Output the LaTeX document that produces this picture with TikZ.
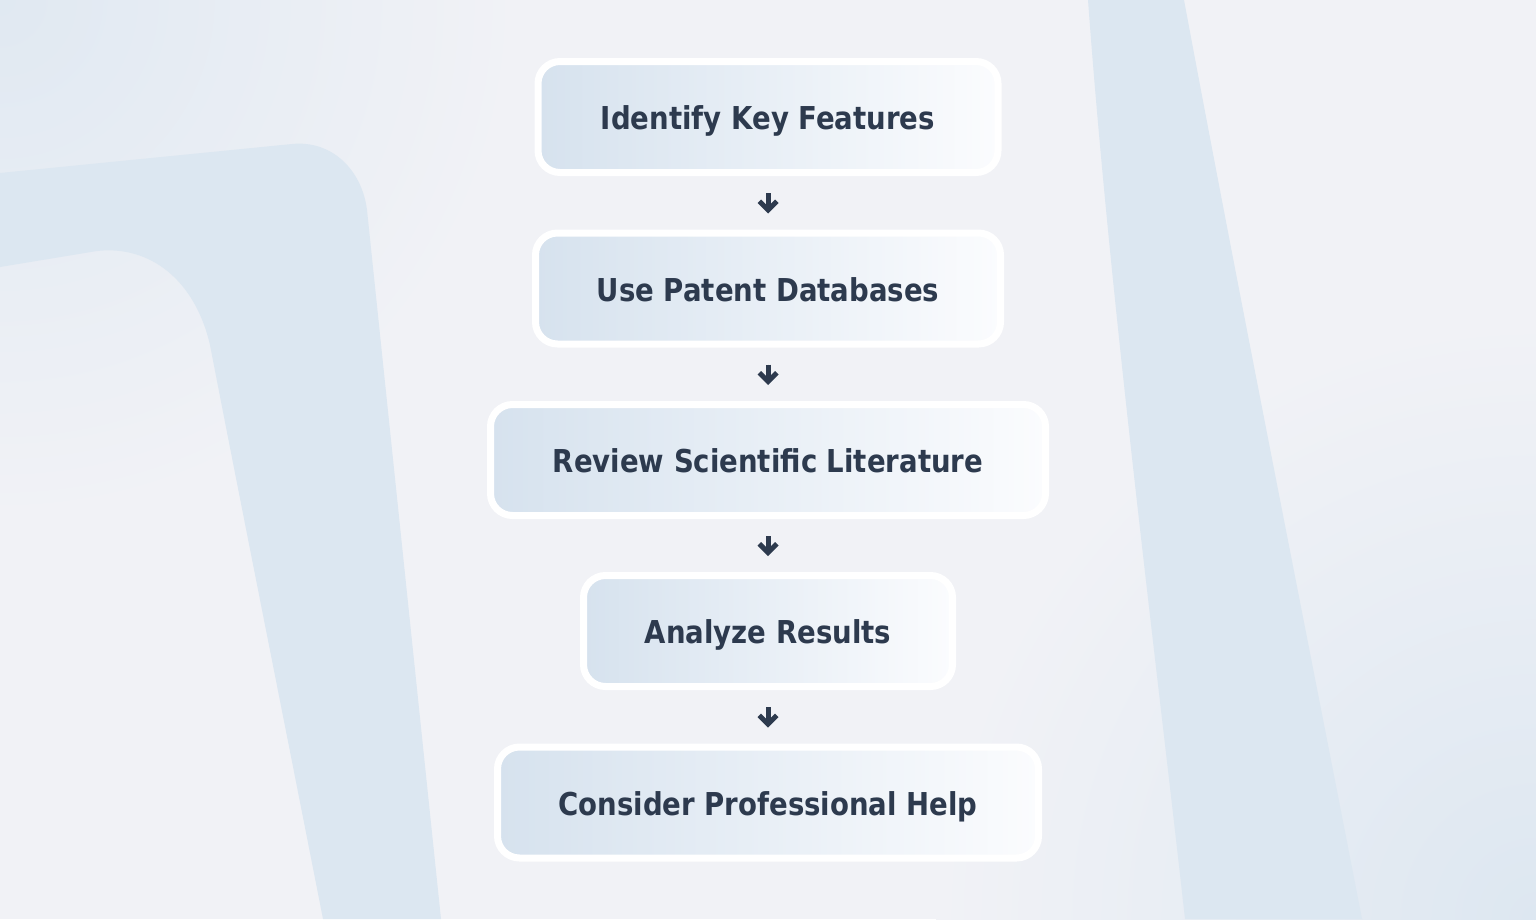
\documentclass[tikz,border=0pt]{standalone}
\usepackage{fontspec}
\newfontfamily\boxfont{DejaVu Sans}[FakeStretch=0.875]
\usetikzlibrary{arrows.meta}
\definecolor{bgbase}{HTML}{F1F2F6}
\definecolor{bgblue}{HTML}{DDE7F1}
\definecolor{bandc}{HTML}{DCE7F1}
\definecolor{boxL}{HTML}{D6E2EE}
\definecolor{boxR}{HTML}{FBFCFE}
\definecolor{ink}{HTML}{2D3A4E}
\pgfdeclarearrow{
  name=FaDown,
  setup code={
    \pgfarrowssettipend{0pt}
    \pgfarrowssetlineend{-6pt}
    \pgfarrowssetvisualbackend{-7pt}
    \pgfarrowssetbackend{-14pt}
    \pgfarrowshullpoint{0pt}{0pt}
    \pgfarrowshullpoint{-14pt}{10.5pt}
    \pgfarrowshullpoint{-14pt}{-10.5pt}
  },
  drawing code={
    \pgfpathmoveto{\pgfqpoint{0pt}{0pt}}
    \pgfpathlineto{\pgfqpoint{-10.5pt}{10.5pt}}
    \pgfpathlineto{\pgfqpoint{-14pt}{7pt}}
    \pgfpathlineto{\pgfqpoint{-7pt}{0pt}}
    \pgfpathlineto{\pgfqpoint{-14pt}{-7pt}}
    \pgfpathlineto{\pgfqpoint{-10.5pt}{-10.5pt}}
    \pgfpathclose
    \pgfusepathqfill
  }
}
\begin{document}
\begin{tikzpicture}[x=1pt,y=-1pt,
  stepbox/.style={draw=white, line width=7pt, rounded corners=22pt,
    left color=boxL, right color=boxR, minimum height=111pt,
    text=ink, font=\boxfont\bfseries\fontsize{31.5}{36}\selectfont,
    inner sep=0pt, text height=25.5pt, text depth=0pt},
  conn/.style={draw=ink, fill=ink, line width=5pt, -{FaDown},
    shorten <=17pt, shorten >=16pt}]
\useasboundingbox (0,0) rectangle (1536,919);
\clip (0,0) rectangle (1536,919);
% background
\fill[bgbase] (0,0) rectangle (1536,919);
\shade[inner color=bgblue!85!bgbase, outer color=bgbase] (-520,-520) rectangle (520,520);
\shade[inner color=bgblue, outer color=bgbase] (1536-600,919-600) rectangle (1536+600,919+600);
% left band
\fill[bandc] (0,173) -- (292,144) .. controls (332,140) and (362,170) .. (367,210)
  -- (441,919) -- (323,919) .. controls (280,700) and (240,500) .. (210,345)
  .. controls (195,280) and (150,245) .. (97,251) -- (0,267) -- cycle;
% right band
\fill[bandc] (1088,0) -- (1184,0) .. controls (1240,300) and (1300,600) .. (1362,919)
  -- (1185,919) .. controls (1155,650) and (1110,300) .. (1088,0) -- cycle;
% boxes
\node[stepbox, minimum width=460pt] (b1) at (768,117) {Identify Key Features};
\node[stepbox, minimum width=465pt] (b2) at (768,288.5) {Use Patent Databases};
\node[stepbox, minimum width=555pt] (b3) at (768,460) {Review Scientific Literature};
\node[stepbox, minimum width=369pt] (b4) at (768,631) {Analyze Results};
\node[stepbox, minimum width=541pt] (b5) at (768,802.5) {Consider Professional Help};
% connectors
\draw[conn] (b1.south) -- (b2.north);
\draw[conn] (b2.south) -- (b3.north);
\draw[conn] (b3.south) -- (b4.north);
\draw[conn] (b4.south) -- (b5.north);
\end{tikzpicture}
\end{document}
